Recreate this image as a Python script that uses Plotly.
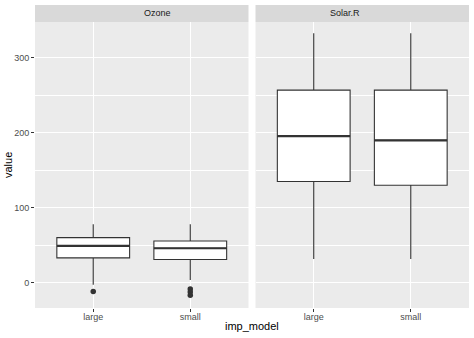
import plotly.graph_objects as go
from plotly.subplots import make_subplots

categories = ["large", "small"]
facets = ["Ozone", "Solar.R"]

# box statistics per facet, per category
lowerfence = {"Ozone": [-3, 3.5], "Solar.R": [31.5, 31.5]}
q1 = {"Ozone": [33, 30.7], "Solar.R": [135, 130]}
median = {"Ozone": [49, 45.8], "Solar.R": [195.5, 190]}
q3 = {"Ozone": [60, 55.5], "Solar.R": [257, 257]}
upperfence = {"Ozone": [78, 78], "Solar.R": [333, 333]}
outliers = {"Ozone": [[-12], [-8.5, -12.5, -17]], "Solar.R": [[], []]}

yticks = [0, 100, 200, 300]

LINE = "#333333"
BOXW = 0.75
FONT = "Liberation Sans, Arial, sans-serif"

L, R, T, B = 35, 5, 22, 30
W, H = 474, 338
PW, PH = W - L - R, H - T - B

fig = make_subplots(rows=1, cols=2, shared_yaxes=True, horizontal_spacing=7 / PW)

for c, f in enumerate(facets, start=1):
    for i, cat in enumerate(categories):
        fig.add_trace(go.Box(
            x=[i], q1=[q1[f][i]], median=[median[f][i]], q3=[q3[f][i]],
            lowerfence=[lowerfence[f][i]], upperfence=[upperfence[f][i]],
            width=BOXW, whiskerwidth=0, fillcolor="white",
            line=dict(color=LINE, width=1.1), boxpoints=False,
            showlegend=False, hoverinfo="skip"), row=1, col=c)
        fig.add_trace(go.Scatter(
            x=[i - BOXW / 2, i + BOXW / 2], y=[median[f][i]] * 2,
            mode="lines", line=dict(color=LINE, width=2.2),
            showlegend=False, hoverinfo="skip"), row=1, col=c)
        if outliers[f][i]:
            fig.add_trace(go.Scatter(
                x=[i] * len(outliers[f][i]), y=outliers[f][i], mode="markers",
                marker=dict(color=LINE, size=5.5),
                showlegend=False, hoverinfo="skip"), row=1, col=c)

axis_common = dict(
    showgrid=True, gridcolor="white", gridwidth=1.1, zeroline=False,
    ticks="outside", ticklen=3, tickcolor=LINE, tickwidth=1,
    tickfont=dict(family=FONT, size=9, color="#4D4D4D"),
    showline=False, automargin=False,
)
for c in (1, 2):
    fig.update_xaxes(range=[-0.6, 1.6], tickvals=[0, 1], ticktext=categories,
                     fixedrange=True, ticklabelstandoff=-3, **axis_common, row=1, col=c)
    fig.update_yaxes(range=[-34, 348], tickvals=yticks,
                     minor=dict(tickvals=[-50, 50, 150, 250], showgrid=True,
                                gridcolor="white", gridwidth=0.55, ticks=""),
                     **axis_common, row=1, col=c)
fig.update_yaxes(showticklabels=False, ticks="", row=1, col=2)

fig.update_layout(
    width=W, height=H,
    margin=dict(l=L, r=R, t=T, b=B),
    paper_bgcolor="white", plot_bgcolor="#EBEBEB",
    font=dict(family=FONT),
)

# facet strips
dom1 = fig.layout.xaxis.domain
dom2 = fig.layout.xaxis2.domain
strip_h = 17 / PH
for dom, name in ((dom1, facets[0]), (dom2, facets[1])):
    fig.add_shape(type="rect", xref="paper", yref="paper",
                  x0=dom[0], x1=dom[1], y0=1, y1=1 + strip_h,
                  fillcolor="#D9D9D9", line=dict(width=0), layer="below")
    fig.add_annotation(text=name, xref="paper", yref="paper",
                       x=(dom[0] + dom[1]) / 2, y=1 + strip_h / 2,
                       showarrow=False, yanchor="middle",
                       font=dict(family=FONT, size=9, color="#1A1A1A"))

fig.add_annotation(text="imp_model", xref="paper", yref="paper",
                   x=0.5, y=-(326 - (H - B)) / PH, yanchor="middle", showarrow=False,
                   font=dict(family=FONT, size=11, color="black"))
fig.add_annotation(text="value", xref="paper", yref="paper",
                   x=-(L - 8) / PW, y=0.5, xanchor="center", yanchor="middle",
                   textangle=-90, showarrow=False,
                   font=dict(family=FONT, size=11, color="black"))

fig.write_html("out.html")
